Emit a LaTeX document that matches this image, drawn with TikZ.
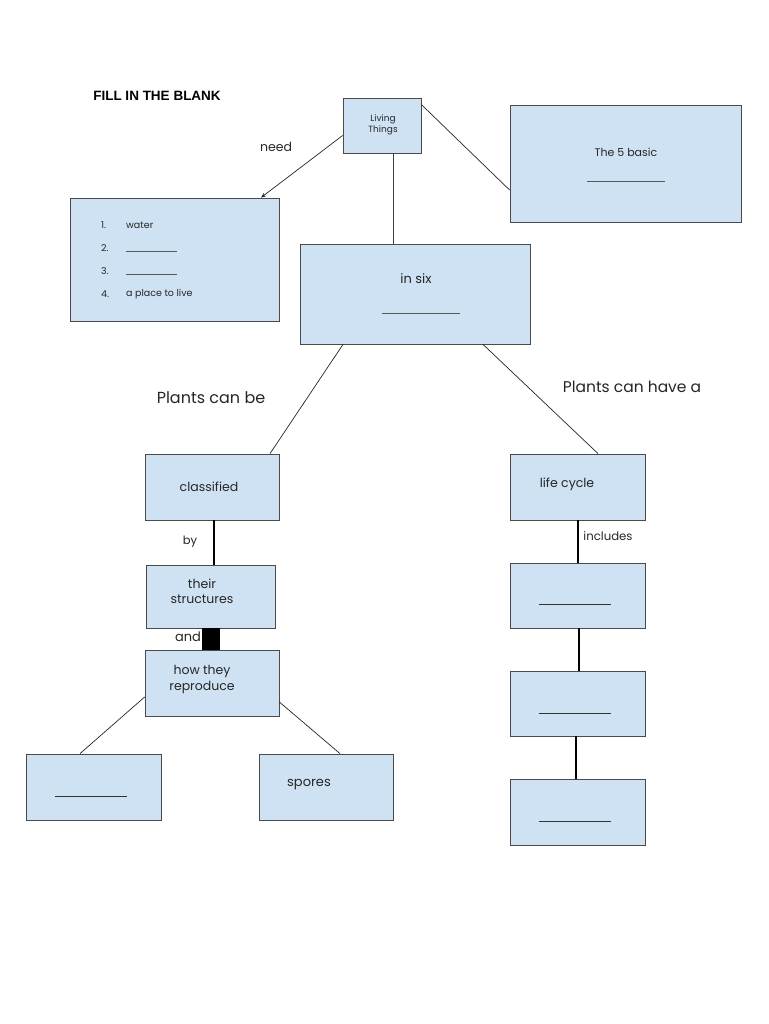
\documentclass[tikz,border=0pt]{standalone}
\usepackage{fontspec}
\setmainfont{Poppins}
\newfontfamily\titlefont{Liberation Sans}
\usetikzlibrary{calc,arrows.meta}
\definecolor{boxblue}{HTML}{CFE2F3}
\definecolor{edge}{HTML}{4A4A4A}
\tikzset{
  bx/.style={draw=edge, fill=boxblue, line width=0.8pt, inner sep=0pt, rectangle},
  lnk/.style={draw=black!85, line width=0.7pt},
  thick lnk/.style={draw=black, line width=1.4pt},
  lbl/.style={inner sep=0pt, text=black!85, font=\fontsize{12.5}{14}\selectfont},
  small/.style={inner sep=0pt, text=black!85, font=\fontsize{9.5}{11}\selectfont},
  blank/.style={draw=gray!70!black, line width=0.8pt}
}
\begin{document}
\begin{tikzpicture}[x=1pt,y=-1pt]
\useasboundingbox (0,0) rectangle (768,1024);
\fill[white] (0,0) rectangle (768,1024);
% title
\node[inner sep=0pt, font=\titlefont\bfseries\fontsize{13.5}{15}\selectfont] (title) at (157,96) {FILL IN THE BLANK};
% boxes
\node[bx, minimum width=78pt, minimum height=55pt] (living) at (382,125.5) {};
\node[bx, minimum width=231pt, minimum height=117pt] (basic) at (625.5,163.5) {};
\node[bx, minimum width=209pt, minimum height=123pt] (list) at (174.5,259.5) {};
\node[bx, minimum width=230pt, minimum height=100pt] (six) at (415,294) {};
\node[bx, minimum width=134pt, minimum height=66pt] (classified) at (212,487) {};
\node[bx, minimum width=129pt, minimum height=63pt] (structures) at (210.5,596.5) {};
\node[bx, minimum width=134pt, minimum height=66pt] (reproduce) at (212,683) {};
\node[bx, minimum width=135pt, minimum height=66pt] (blankone) at (93.5,787) {};
\node[bx, minimum width=134pt, minimum height=66pt] (spores) at (326,787) {};
\node[bx, minimum width=135pt, minimum height=66pt] (life) at (577.5,487) {};
\node[bx, minimum width=135pt, minimum height=65pt] (stageone) at (577.5,595.5) {};
\node[bx, minimum width=135pt, minimum height=65pt] (stagetwo) at (577.5,703.5) {};
\node[bx, minimum width=135pt, minimum height=66pt] (stagethree) at (577.5,812) {};
% black connector block
\node[fill=black, inner sep=0pt, minimum width=18pt, minimum height=22pt] (andblock) at (211,639) {};
% texts in boxes
\node[small, align=center, font=\fontsize{9}{11.5}\selectfont] (livingtxt) at (383,125) {Living\\Things};
\node[lbl, font=\fontsize{11}{13}\selectfont] (basictxt) at (626,152) {The 5 basic};
\coordinate (basicL) at (587,181); \coordinate (basicR) at (665,181);
\draw[blank] (basicL) -- (basicR);
\node[small, anchor=west] (n1) at (101,225) {1.};
\node[small, anchor=west] (w1) at (126,225) {water};
\node[small, anchor=west] (n2) at (101,248) {2.};
\coordinate (l2a) at (126,251); \coordinate (l2b) at (177,251);
\draw[blank, line width=0.6pt] (l2a) -- (l2b);
\node[small, anchor=west] (n3) at (101,271) {3.};
\coordinate (l3a) at (126,274); \coordinate (l3b) at (177,274);
\draw[blank, line width=0.6pt] (l3a) -- (l3b);
\node[small, anchor=west] (n4) at (101,294) {4.};
\node[small, anchor=west] (w4) at (126,294) {a place to live};
\node[lbl, font=\fontsize{13}{15}\selectfont] (sixtxt) at (416,279) {in six};
\coordinate (sixL) at (382,313); \coordinate (sixR) at (460,313);
\draw[blank] (sixL) -- (sixR);
\node[lbl] (classtxt) at (209,487) {classified};
\node[lbl, align=center, font=\fontsize{12.5}{15}\selectfont] (structtxt) at (202,591) {their\\structures};
\node[lbl, align=center, font=\fontsize{12.5}{16}\selectfont] (reprotxt) at (202,679) {how they\\reproduce};
\coordinate (b1L) at (55,796); \coordinate (b1R) at (127,796);
\draw[blank, draw=black!80] (b1L) -- (b1R);
\node[lbl, font=\fontsize{13}{15}\selectfont] (sporestxt) at (309,785) {spores};
\node[lbl] (lifetxt) at (567,484) {life cycle};
\coordinate (s1L) at (539,604); \coordinate (s1R) at (611,604);
\draw[blank, draw=black!80] (s1L) -- (s1R);
\coordinate (s2L) at (539,713); \coordinate (s2R) at (611,713);
\draw[blank, draw=black!80] (s2L) -- (s2R);
\coordinate (s3L) at (539,821); \coordinate (s3R) at (611,821);
\draw[blank, draw=black!80] (s3L) -- (s3R);
% free labels
\node[lbl, font=\fontsize{12.5}{14}\selectfont] (need) at (276,147) {need};
\node[lbl, font=\fontsize{16}{18}\selectfont] (pcb) at (211,398) {Plants can be};
\node[lbl, font=\fontsize{15.5}{18}\selectfont] (pch) at (632,387) {Plants can have a};
\node[lbl, font=\fontsize{11.5}{13}\selectfont] (by) at (190,542) {by};
\node[lbl, font=\fontsize{13}{15}\selectfont] (andtxt) at (188,637) {and};
\node[lbl, font=\fontsize{11.7}{13}\selectfont] (incl) at (608,536) {includes};
% connectors
\draw[lnk, -{Stealth[length=5pt,width=4pt]}] ([yshift=-10pt]living.west) -- ([xshift=86.5pt]list.north);
\draw[lnk] ([yshift=-7pt]living.north east) -- ([yshift=-26.5pt]basic.west);
\draw[lnk, draw=black!75, line width=0.9pt] ([xshift=11pt]living.south) -- ([xshift=-22pt]six.north);
\draw[lnk] ([xshift=-72pt]six.south) -- ([xshift=58pt]classified.north);
\draw[lnk] ([xshift=68pt]six.south) -- ([xshift=20.5pt]life.north);
\draw[thick lnk] ([xshift=2pt]classified.south) -- ([xshift=3.5pt]structures.north);
\draw[lnk] ([yshift=-14pt]reproduce.west) -- ([xshift=-13.5pt]blankone.north);
\draw[lnk] ([yshift=-19pt]reproduce.east) -- ([xshift=14pt]spores.north);
\draw[thick lnk] ([xshift=0.5pt]life.south) -- ([xshift=0.5pt]stageone.north);
\draw[thick lnk] ([xshift=1.5pt]stageone.south) -- ([xshift=1.5pt]stagetwo.north);
\draw[thick lnk] ([xshift=-1.5pt]stagetwo.south) -- ([xshift=-1.5pt]stagethree.north);
\end{tikzpicture}
\end{document}
